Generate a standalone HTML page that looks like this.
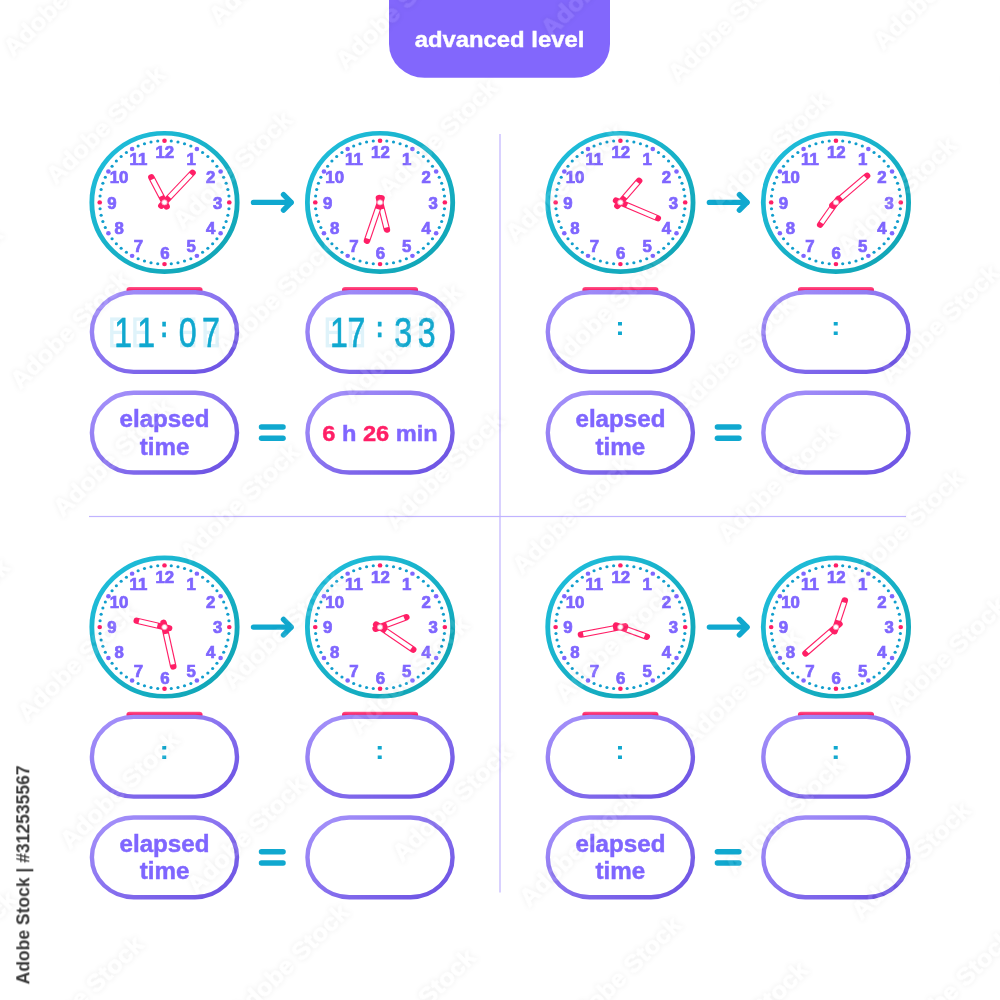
<!DOCTYPE html>
<html lang="en"><head><meta charset="utf-8"><title>elapsed time - advanced level</title>
<style>
html,body{margin:0;padding:0;background:#fff;}
body{width:1000px;height:1000px;overflow:hidden;}
svg{display:block;}
text{font-family:"Liberation Sans",sans-serif;font-weight:700;}
.num{font-size:16px;fill:#7F66FF;stroke:#7F66FF;stroke-width:.7px;text-anchor:middle;}
.lbl{font-size:23px;fill:#7F66FF;stroke:#7F66FF;stroke-width:.45px;text-anchor:middle;}
.s2{font-size:22.5px;}
.ttl{font-size:22.7px;fill:#fff;stroke:#fff;stroke-width:.45px;text-anchor:middle;}
.seg{font-weight:400;font-size:30px;fill:#10A8CF;stroke:#10A8CF;stroke-width:.45px;}
.seg .col{font-weight:700;font-size:20.5px;}
.colon{font-size:28.4px;fill:#10A8CF;}
.wm text{font-size:24px;fill:#fff;stroke:#fff;stroke-width:1px;}
.credit{font-weight:700;font-size:18.8px;fill:#3a3a3a;}
</style></head><body>
<svg width="1000" height="1000" viewBox="0 0 1000 1000"><defs>
<linearGradient id="tg" x1="0" y1="0" x2="1" y2="1"><stop offset="0" stop-color="#20BFDE"/><stop offset="1" stop-color="#0FA3B2"/></linearGradient>
<linearGradient id="pg" x1="0" y1="0" x2="1" y2="1"><stop offset="0" stop-color="#A794FB"/><stop offset="1" stop-color="#694FE2"/></linearGradient>
<linearGradient id="kg" x1="0" y1="0" x2="0" y2="1"><stop offset="0" stop-color="#FF5A8A"/><stop offset="0.7" stop-color="#FB1360"/></linearGradient>
<filter id="wmf" filterUnits="userSpaceOnUse" x="0" y="0" width="1000" height="1000" color-interpolation-filters="sRGB">
<feGaussianBlur in="SourceAlpha" stdDeviation="2.6" result="b"/>
<feComposite in="b" in2="SourceAlpha" operator="out" result="g"/>
<feColorMatrix in="g" type="matrix" values="0 0 0 0 0  0 0 0 0 0  0 0 0 0 0  0 0 0 0.065 0" result="gs"/>
<feColorMatrix in="SourceGraphic" type="matrix" values="0 0 0 0 1  0 0 0 0 1  0 0 0 0 1  0 0 0 0.09 0" result="w"/>
<feMerge><feMergeNode in="gs"/><feMergeNode in="w"/></feMerge>
</filter>
</defs><rect width="1000" height="1000" fill="#fff"/><path d="M389 0 H610 V44 A35.5 33.7 0 0 1 574.5 77.7 H424.5 A35.5 33.7 0 0 1 389 44 Z" fill="#8267FC"/><text transform="translate(499.5,46.5) scale(1.05,1)" class="ttl">advanced level</text><rect x="499" y="134" width="2" height="758.5" fill="#D9D1FF"/><rect x="89" y="515.9" width="817" height="1.2" fill="#C0B4FF"/><g transform="translate(164.5,202.4) scale(1.05,1)"><circle r="69.2" fill="#fff" stroke="url(#tg)" stroke-width="4.6"/><circle cx="0" cy="-61.7" r="2.2" fill="#FF1F66"/><circle cx="6.45" cy="-61.36" r="1.5" fill="#109ECD"/><circle cx="12.83" cy="-60.35" r="1.5" fill="#109ECD"/><circle cx="19.07" cy="-58.68" r="1.5" fill="#109ECD"/><circle cx="25.1" cy="-56.37" r="1.5" fill="#109ECD"/><circle cx="30.85" cy="-53.43" r="2.2" fill="#7F66FF"/><circle cx="36.27" cy="-49.92" r="1.5" fill="#109ECD"/><circle cx="41.29" cy="-45.85" r="1.5" fill="#109ECD"/><circle cx="45.85" cy="-41.29" r="1.5" fill="#109ECD"/><circle cx="49.92" cy="-36.27" r="1.5" fill="#109ECD"/><circle cx="53.43" cy="-30.85" r="2.2" fill="#7F66FF"/><circle cx="56.37" cy="-25.1" r="1.5" fill="#109ECD"/><circle cx="58.68" cy="-19.07" r="1.5" fill="#109ECD"/><circle cx="60.35" cy="-12.83" r="1.5" fill="#109ECD"/><circle cx="61.36" cy="-6.45" r="1.5" fill="#109ECD"/><circle cx="61.7" cy="-0" r="2.2" fill="#FF1F66"/><circle cx="61.36" cy="6.45" r="1.5" fill="#109ECD"/><circle cx="60.35" cy="12.83" r="1.5" fill="#109ECD"/><circle cx="58.68" cy="19.07" r="1.5" fill="#109ECD"/><circle cx="56.37" cy="25.1" r="1.5" fill="#109ECD"/><circle cx="53.43" cy="30.85" r="2.2" fill="#7F66FF"/><circle cx="49.92" cy="36.27" r="1.5" fill="#109ECD"/><circle cx="45.85" cy="41.29" r="1.5" fill="#109ECD"/><circle cx="41.29" cy="45.85" r="1.5" fill="#109ECD"/><circle cx="36.27" cy="49.92" r="1.5" fill="#109ECD"/><circle cx="30.85" cy="53.43" r="2.2" fill="#7F66FF"/><circle cx="25.1" cy="56.37" r="1.5" fill="#109ECD"/><circle cx="19.07" cy="58.68" r="1.5" fill="#109ECD"/><circle cx="12.83" cy="60.35" r="1.5" fill="#109ECD"/><circle cx="6.45" cy="61.36" r="1.5" fill="#109ECD"/><circle cx="0" cy="61.7" r="2.2" fill="#FF1F66"/><circle cx="-6.45" cy="61.36" r="1.5" fill="#109ECD"/><circle cx="-12.83" cy="60.35" r="1.5" fill="#109ECD"/><circle cx="-19.07" cy="58.68" r="1.5" fill="#109ECD"/><circle cx="-25.1" cy="56.37" r="1.5" fill="#109ECD"/><circle cx="-30.85" cy="53.43" r="2.2" fill="#7F66FF"/><circle cx="-36.27" cy="49.92" r="1.5" fill="#109ECD"/><circle cx="-41.29" cy="45.85" r="1.5" fill="#109ECD"/><circle cx="-45.85" cy="41.29" r="1.5" fill="#109ECD"/><circle cx="-49.92" cy="36.27" r="1.5" fill="#109ECD"/><circle cx="-53.43" cy="30.85" r="2.2" fill="#7F66FF"/><circle cx="-56.37" cy="25.1" r="1.5" fill="#109ECD"/><circle cx="-58.68" cy="19.07" r="1.5" fill="#109ECD"/><circle cx="-60.35" cy="12.83" r="1.5" fill="#109ECD"/><circle cx="-61.36" cy="6.45" r="1.5" fill="#109ECD"/><circle cx="-61.7" cy="0" r="2.2" fill="#FF1F66"/><circle cx="-61.36" cy="-6.45" r="1.5" fill="#109ECD"/><circle cx="-60.35" cy="-12.83" r="1.5" fill="#109ECD"/><circle cx="-58.68" cy="-19.07" r="1.5" fill="#109ECD"/><circle cx="-56.37" cy="-25.1" r="1.5" fill="#109ECD"/><circle cx="-53.43" cy="-30.85" r="2.2" fill="#7F66FF"/><circle cx="-49.92" cy="-36.27" r="1.5" fill="#109ECD"/><circle cx="-45.85" cy="-41.29" r="1.5" fill="#109ECD"/><circle cx="-41.29" cy="-45.85" r="1.5" fill="#109ECD"/><circle cx="-36.27" cy="-49.92" r="1.5" fill="#109ECD"/><circle cx="-30.85" cy="-53.43" r="2.2" fill="#7F66FF"/><circle cx="-25.1" cy="-56.37" r="1.5" fill="#109ECD"/><circle cx="-19.07" cy="-58.68" r="1.5" fill="#109ECD"/><circle cx="-12.83" cy="-60.35" r="1.5" fill="#109ECD"/><circle cx="-6.45" cy="-61.36" r="1.5" fill="#109ECD"/><text x="25.45" y="-37.36" class="num">1</text><text x="43.86" y="-18.95" class="num">2</text><text x="50.6" y="6.2" class="num">3</text><text x="43.86" y="31.35" class="num">4</text><text x="25.45" y="49.76" class="num">5</text><text x="0.3" y="56.5" class="num">6</text><text x="-24.85" y="49.76" class="num">7</text><text x="-43.26" y="31.35" class="num">8</text><text x="-50" y="6.2" class="num">9</text><text x="-43.26" y="-18.95" class="num">10</text><text x="-24.85" y="-37.36" class="num">11</text><text x="0.3" y="-44.1" class="num">12</text><g transform="rotate(333.5)"><line x1="0" y1="4.5" x2="0" y2="-28" stroke="#FF1F66" stroke-width="6.2" stroke-linecap="round"/><line x1="0" y1="-7" x2="0" y2="-25.8" stroke="#fff" stroke-width="4" stroke-linecap="butt"/></g><g transform="rotate(42)"><line x1="0" y1="4.5" x2="0" y2="-39.9" stroke="#FF1F66" stroke-width="6.2" stroke-linecap="round"/><line x1="0" y1="-7" x2="0" y2="-37.7" stroke="#fff" stroke-width="4" stroke-linecap="butt"/></g><circle r="2.6" fill="#fff" stroke="#ff8fb0" stroke-width="0.8"/></g><g transform="translate(380.05,202.4) scale(1.05,1)"><circle r="69.2" fill="#fff" stroke="url(#tg)" stroke-width="4.6"/><circle cx="0" cy="-61.7" r="2.2" fill="#FF1F66"/><circle cx="6.45" cy="-61.36" r="1.5" fill="#109ECD"/><circle cx="12.83" cy="-60.35" r="1.5" fill="#109ECD"/><circle cx="19.07" cy="-58.68" r="1.5" fill="#109ECD"/><circle cx="25.1" cy="-56.37" r="1.5" fill="#109ECD"/><circle cx="30.85" cy="-53.43" r="2.2" fill="#7F66FF"/><circle cx="36.27" cy="-49.92" r="1.5" fill="#109ECD"/><circle cx="41.29" cy="-45.85" r="1.5" fill="#109ECD"/><circle cx="45.85" cy="-41.29" r="1.5" fill="#109ECD"/><circle cx="49.92" cy="-36.27" r="1.5" fill="#109ECD"/><circle cx="53.43" cy="-30.85" r="2.2" fill="#7F66FF"/><circle cx="56.37" cy="-25.1" r="1.5" fill="#109ECD"/><circle cx="58.68" cy="-19.07" r="1.5" fill="#109ECD"/><circle cx="60.35" cy="-12.83" r="1.5" fill="#109ECD"/><circle cx="61.36" cy="-6.45" r="1.5" fill="#109ECD"/><circle cx="61.7" cy="-0" r="2.2" fill="#FF1F66"/><circle cx="61.36" cy="6.45" r="1.5" fill="#109ECD"/><circle cx="60.35" cy="12.83" r="1.5" fill="#109ECD"/><circle cx="58.68" cy="19.07" r="1.5" fill="#109ECD"/><circle cx="56.37" cy="25.1" r="1.5" fill="#109ECD"/><circle cx="53.43" cy="30.85" r="2.2" fill="#7F66FF"/><circle cx="49.92" cy="36.27" r="1.5" fill="#109ECD"/><circle cx="45.85" cy="41.29" r="1.5" fill="#109ECD"/><circle cx="41.29" cy="45.85" r="1.5" fill="#109ECD"/><circle cx="36.27" cy="49.92" r="1.5" fill="#109ECD"/><circle cx="30.85" cy="53.43" r="2.2" fill="#7F66FF"/><circle cx="25.1" cy="56.37" r="1.5" fill="#109ECD"/><circle cx="19.07" cy="58.68" r="1.5" fill="#109ECD"/><circle cx="12.83" cy="60.35" r="1.5" fill="#109ECD"/><circle cx="6.45" cy="61.36" r="1.5" fill="#109ECD"/><circle cx="0" cy="61.7" r="2.2" fill="#FF1F66"/><circle cx="-6.45" cy="61.36" r="1.5" fill="#109ECD"/><circle cx="-12.83" cy="60.35" r="1.5" fill="#109ECD"/><circle cx="-19.07" cy="58.68" r="1.5" fill="#109ECD"/><circle cx="-25.1" cy="56.37" r="1.5" fill="#109ECD"/><circle cx="-30.85" cy="53.43" r="2.2" fill="#7F66FF"/><circle cx="-36.27" cy="49.92" r="1.5" fill="#109ECD"/><circle cx="-41.29" cy="45.85" r="1.5" fill="#109ECD"/><circle cx="-45.85" cy="41.29" r="1.5" fill="#109ECD"/><circle cx="-49.92" cy="36.27" r="1.5" fill="#109ECD"/><circle cx="-53.43" cy="30.85" r="2.2" fill="#7F66FF"/><circle cx="-56.37" cy="25.1" r="1.5" fill="#109ECD"/><circle cx="-58.68" cy="19.07" r="1.5" fill="#109ECD"/><circle cx="-60.35" cy="12.83" r="1.5" fill="#109ECD"/><circle cx="-61.36" cy="6.45" r="1.5" fill="#109ECD"/><circle cx="-61.7" cy="0" r="2.2" fill="#FF1F66"/><circle cx="-61.36" cy="-6.45" r="1.5" fill="#109ECD"/><circle cx="-60.35" cy="-12.83" r="1.5" fill="#109ECD"/><circle cx="-58.68" cy="-19.07" r="1.5" fill="#109ECD"/><circle cx="-56.37" cy="-25.1" r="1.5" fill="#109ECD"/><circle cx="-53.43" cy="-30.85" r="2.2" fill="#7F66FF"/><circle cx="-49.92" cy="-36.27" r="1.5" fill="#109ECD"/><circle cx="-45.85" cy="-41.29" r="1.5" fill="#109ECD"/><circle cx="-41.29" cy="-45.85" r="1.5" fill="#109ECD"/><circle cx="-36.27" cy="-49.92" r="1.5" fill="#109ECD"/><circle cx="-30.85" cy="-53.43" r="2.2" fill="#7F66FF"/><circle cx="-25.1" cy="-56.37" r="1.5" fill="#109ECD"/><circle cx="-19.07" cy="-58.68" r="1.5" fill="#109ECD"/><circle cx="-12.83" cy="-60.35" r="1.5" fill="#109ECD"/><circle cx="-6.45" cy="-61.36" r="1.5" fill="#109ECD"/><text x="25.45" y="-37.36" class="num">1</text><text x="43.86" y="-18.95" class="num">2</text><text x="50.6" y="6.2" class="num">3</text><text x="43.86" y="31.35" class="num">4</text><text x="25.45" y="49.76" class="num">5</text><text x="0.3" y="56.5" class="num">6</text><text x="-24.85" y="49.76" class="num">7</text><text x="-43.26" y="31.35" class="num">8</text><text x="-50" y="6.2" class="num">9</text><text x="-43.26" y="-18.95" class="num">10</text><text x="-24.85" y="-37.36" class="num">11</text><text x="0.3" y="-44.1" class="num">12</text><g transform="rotate(166.5)"><line x1="0" y1="4.5" x2="0" y2="-28" stroke="#FF1F66" stroke-width="6.2" stroke-linecap="round"/><line x1="0" y1="-7" x2="0" y2="-25.8" stroke="#fff" stroke-width="4" stroke-linecap="butt"/></g><g transform="rotate(198)"><line x1="0" y1="4.5" x2="0" y2="-40.3" stroke="#FF1F66" stroke-width="6.2" stroke-linecap="round"/><line x1="0" y1="-7" x2="0" y2="-38.1" stroke="#fff" stroke-width="4" stroke-linecap="butt"/></g><circle r="2.6" fill="#fff" stroke="#ff8fb0" stroke-width="0.8"/></g><g fill="none" stroke="#10A8CF" stroke-width="5.4" stroke-linecap="round" stroke-linejoin="round"><path d="M253.5 202.4 H291"/><path d="M283.5 194.6 L291.2 202.4 L283.5 210.2"/></g><path d="M126.5 292 V289.5 Q126.5 287 129.5 287 H199.5 Q202.5 287 202.5 289.5 V292 Z" fill="url(#kg)"/><rect x="91.9" y="292.2" width="145.1" height="79.7" rx="41.84" ry="39.85" fill="#fff" stroke="url(#pg)" stroke-width="4.4"/><rect x="91.9" y="392.8" width="145.1" height="79.7" rx="41.84" ry="39.85" fill="#fff" stroke="url(#pg)" stroke-width="4.4"/><path d="M342.05 292 V289.5 Q342.05 287 345.05 287 H415.05 Q418.05 287 418.05 289.5 V292 Z" fill="url(#kg)"/><rect x="307.45" y="292.2" width="145.1" height="79.7" rx="41.84" ry="39.85" fill="#fff" stroke="url(#pg)" stroke-width="4.4"/><rect x="307.45" y="392.8" width="145.1" height="79.7" rx="41.84" ry="39.85" fill="#fff" stroke="url(#pg)" stroke-width="4.4"/><g fill="none" stroke="#DFF3FA" stroke-width="3.4"><rect x="111.8" y="319.1" width="12" height="26.6"/><path d="M111.8 332.4 H123.8"/></g><g fill="none" stroke="#DFF3FA" stroke-width="3.4"><rect x="134.9" y="319.1" width="12" height="26.6"/><path d="M134.9 332.4 H146.9"/></g><g fill="none" stroke="#DFF3FA" stroke-width="3.4"><rect x="181.7" y="319.1" width="12" height="26.6"/><path d="M181.7 332.4 H193.7"/></g><g fill="none" stroke="#DFF3FA" stroke-width="3.4"><rect x="205.1" y="319.1" width="12" height="26.6"/><path d="M205.1 332.4 H217.1"/></g><text transform="translate(164.5,347) scale(1.07,1.41)" class="seg"><tspan x="-46.9 -25.39">11</tspan><tspan class="col" x="-3.69" dy="-7.29">:</tspan><tspan x="13.26 35.04" dy="7.29">07</tspan></text><g fill="none" stroke="#DFF3FA" stroke-width="3.4"><rect x="327.35" y="319.1" width="12" height="26.6"/><path d="M327.35 332.4 H339.35"/></g><g fill="none" stroke="#DFF3FA" stroke-width="3.4"><rect x="350.45" y="319.1" width="12" height="26.6"/><path d="M350.45 332.4 H362.45"/></g><g fill="none" stroke="#DFF3FA" stroke-width="3.4"><rect x="397.25" y="319.1" width="12" height="26.6"/><path d="M397.25 332.4 H409.25"/></g><g fill="none" stroke="#DFF3FA" stroke-width="3.4"><rect x="420.65" y="319.1" width="12" height="26.6"/><path d="M420.65 332.4 H432.65"/></g><text transform="translate(380.05,347) scale(1.07,1.41)" class="seg"><tspan x="-46.9 -30.33">17</tspan><tspan class="col" x="-3.69" dy="-7.29">:</tspan><tspan x="13.35 35.14" dy="7.29">33</tspan></text><text transform="translate(380.05,441) scale(1.05,1)" class="lbl s2"><tspan fill="#FF1F66" stroke="#FF1F66">6</tspan> h <tspan fill="#FF1F66" stroke="#FF1F66">26</tspan> min</text><text transform="translate(164.5,427.2) scale(1.05,1)" class="lbl"><tspan x="3.2">elapsed </tspan><tspan x="0" dy="27.6">time</tspan></text><g fill="none" stroke="#10A8CF" stroke-width="5.5" stroke-linecap="round"><path d="M261.52 427 H283.02"/><path d="M261.52 438.2 H283.02"/></g><g transform="translate(620.4,202.4) scale(1.05,1)"><circle r="69.2" fill="#fff" stroke="url(#tg)" stroke-width="4.6"/><circle cx="0" cy="-61.7" r="2.2" fill="#FF1F66"/><circle cx="6.45" cy="-61.36" r="1.5" fill="#109ECD"/><circle cx="12.83" cy="-60.35" r="1.5" fill="#109ECD"/><circle cx="19.07" cy="-58.68" r="1.5" fill="#109ECD"/><circle cx="25.1" cy="-56.37" r="1.5" fill="#109ECD"/><circle cx="30.85" cy="-53.43" r="2.2" fill="#7F66FF"/><circle cx="36.27" cy="-49.92" r="1.5" fill="#109ECD"/><circle cx="41.29" cy="-45.85" r="1.5" fill="#109ECD"/><circle cx="45.85" cy="-41.29" r="1.5" fill="#109ECD"/><circle cx="49.92" cy="-36.27" r="1.5" fill="#109ECD"/><circle cx="53.43" cy="-30.85" r="2.2" fill="#7F66FF"/><circle cx="56.37" cy="-25.1" r="1.5" fill="#109ECD"/><circle cx="58.68" cy="-19.07" r="1.5" fill="#109ECD"/><circle cx="60.35" cy="-12.83" r="1.5" fill="#109ECD"/><circle cx="61.36" cy="-6.45" r="1.5" fill="#109ECD"/><circle cx="61.7" cy="-0" r="2.2" fill="#FF1F66"/><circle cx="61.36" cy="6.45" r="1.5" fill="#109ECD"/><circle cx="60.35" cy="12.83" r="1.5" fill="#109ECD"/><circle cx="58.68" cy="19.07" r="1.5" fill="#109ECD"/><circle cx="56.37" cy="25.1" r="1.5" fill="#109ECD"/><circle cx="53.43" cy="30.85" r="2.2" fill="#7F66FF"/><circle cx="49.92" cy="36.27" r="1.5" fill="#109ECD"/><circle cx="45.85" cy="41.29" r="1.5" fill="#109ECD"/><circle cx="41.29" cy="45.85" r="1.5" fill="#109ECD"/><circle cx="36.27" cy="49.92" r="1.5" fill="#109ECD"/><circle cx="30.85" cy="53.43" r="2.2" fill="#7F66FF"/><circle cx="25.1" cy="56.37" r="1.5" fill="#109ECD"/><circle cx="19.07" cy="58.68" r="1.5" fill="#109ECD"/><circle cx="12.83" cy="60.35" r="1.5" fill="#109ECD"/><circle cx="6.45" cy="61.36" r="1.5" fill="#109ECD"/><circle cx="0" cy="61.7" r="2.2" fill="#FF1F66"/><circle cx="-6.45" cy="61.36" r="1.5" fill="#109ECD"/><circle cx="-12.83" cy="60.35" r="1.5" fill="#109ECD"/><circle cx="-19.07" cy="58.68" r="1.5" fill="#109ECD"/><circle cx="-25.1" cy="56.37" r="1.5" fill="#109ECD"/><circle cx="-30.85" cy="53.43" r="2.2" fill="#7F66FF"/><circle cx="-36.27" cy="49.92" r="1.5" fill="#109ECD"/><circle cx="-41.29" cy="45.85" r="1.5" fill="#109ECD"/><circle cx="-45.85" cy="41.29" r="1.5" fill="#109ECD"/><circle cx="-49.92" cy="36.27" r="1.5" fill="#109ECD"/><circle cx="-53.43" cy="30.85" r="2.2" fill="#7F66FF"/><circle cx="-56.37" cy="25.1" r="1.5" fill="#109ECD"/><circle cx="-58.68" cy="19.07" r="1.5" fill="#109ECD"/><circle cx="-60.35" cy="12.83" r="1.5" fill="#109ECD"/><circle cx="-61.36" cy="6.45" r="1.5" fill="#109ECD"/><circle cx="-61.7" cy="0" r="2.2" fill="#FF1F66"/><circle cx="-61.36" cy="-6.45" r="1.5" fill="#109ECD"/><circle cx="-60.35" cy="-12.83" r="1.5" fill="#109ECD"/><circle cx="-58.68" cy="-19.07" r="1.5" fill="#109ECD"/><circle cx="-56.37" cy="-25.1" r="1.5" fill="#109ECD"/><circle cx="-53.43" cy="-30.85" r="2.2" fill="#7F66FF"/><circle cx="-49.92" cy="-36.27" r="1.5" fill="#109ECD"/><circle cx="-45.85" cy="-41.29" r="1.5" fill="#109ECD"/><circle cx="-41.29" cy="-45.85" r="1.5" fill="#109ECD"/><circle cx="-36.27" cy="-49.92" r="1.5" fill="#109ECD"/><circle cx="-30.85" cy="-53.43" r="2.2" fill="#7F66FF"/><circle cx="-25.1" cy="-56.37" r="1.5" fill="#109ECD"/><circle cx="-19.07" cy="-58.68" r="1.5" fill="#109ECD"/><circle cx="-12.83" cy="-60.35" r="1.5" fill="#109ECD"/><circle cx="-6.45" cy="-61.36" r="1.5" fill="#109ECD"/><text x="25.45" y="-37.36" class="num">1</text><text x="43.86" y="-18.95" class="num">2</text><text x="50.6" y="6.2" class="num">3</text><text x="43.86" y="31.35" class="num">4</text><text x="25.45" y="49.76" class="num">5</text><text x="0.3" y="56.5" class="num">6</text><text x="-24.85" y="49.76" class="num">7</text><text x="-43.26" y="31.35" class="num">8</text><text x="-50" y="6.2" class="num">9</text><text x="-43.26" y="-18.95" class="num">10</text><text x="-24.85" y="-37.36" class="num">11</text><text x="0.3" y="-44.1" class="num">12</text><g transform="rotate(39.5)"><line x1="0" y1="4.5" x2="0" y2="-28" stroke="#FF1F66" stroke-width="6.2" stroke-linecap="round"/><line x1="0" y1="-7" x2="0" y2="-25.8" stroke="#fff" stroke-width="4" stroke-linecap="butt"/></g><g transform="rotate(114)"><line x1="0" y1="4.5" x2="0" y2="-39" stroke="#FF1F66" stroke-width="6.2" stroke-linecap="round"/><line x1="0" y1="-7" x2="0" y2="-36.8" stroke="#fff" stroke-width="4" stroke-linecap="butt"/></g><circle r="2.6" fill="#fff" stroke="#ff8fb0" stroke-width="0.8"/></g><g transform="translate(835.95,202.4) scale(1.05,1)"><circle r="69.2" fill="#fff" stroke="url(#tg)" stroke-width="4.6"/><circle cx="0" cy="-61.7" r="2.2" fill="#FF1F66"/><circle cx="6.45" cy="-61.36" r="1.5" fill="#109ECD"/><circle cx="12.83" cy="-60.35" r="1.5" fill="#109ECD"/><circle cx="19.07" cy="-58.68" r="1.5" fill="#109ECD"/><circle cx="25.1" cy="-56.37" r="1.5" fill="#109ECD"/><circle cx="30.85" cy="-53.43" r="2.2" fill="#7F66FF"/><circle cx="36.27" cy="-49.92" r="1.5" fill="#109ECD"/><circle cx="41.29" cy="-45.85" r="1.5" fill="#109ECD"/><circle cx="45.85" cy="-41.29" r="1.5" fill="#109ECD"/><circle cx="49.92" cy="-36.27" r="1.5" fill="#109ECD"/><circle cx="53.43" cy="-30.85" r="2.2" fill="#7F66FF"/><circle cx="56.37" cy="-25.1" r="1.5" fill="#109ECD"/><circle cx="58.68" cy="-19.07" r="1.5" fill="#109ECD"/><circle cx="60.35" cy="-12.83" r="1.5" fill="#109ECD"/><circle cx="61.36" cy="-6.45" r="1.5" fill="#109ECD"/><circle cx="61.7" cy="-0" r="2.2" fill="#FF1F66"/><circle cx="61.36" cy="6.45" r="1.5" fill="#109ECD"/><circle cx="60.35" cy="12.83" r="1.5" fill="#109ECD"/><circle cx="58.68" cy="19.07" r="1.5" fill="#109ECD"/><circle cx="56.37" cy="25.1" r="1.5" fill="#109ECD"/><circle cx="53.43" cy="30.85" r="2.2" fill="#7F66FF"/><circle cx="49.92" cy="36.27" r="1.5" fill="#109ECD"/><circle cx="45.85" cy="41.29" r="1.5" fill="#109ECD"/><circle cx="41.29" cy="45.85" r="1.5" fill="#109ECD"/><circle cx="36.27" cy="49.92" r="1.5" fill="#109ECD"/><circle cx="30.85" cy="53.43" r="2.2" fill="#7F66FF"/><circle cx="25.1" cy="56.37" r="1.5" fill="#109ECD"/><circle cx="19.07" cy="58.68" r="1.5" fill="#109ECD"/><circle cx="12.83" cy="60.35" r="1.5" fill="#109ECD"/><circle cx="6.45" cy="61.36" r="1.5" fill="#109ECD"/><circle cx="0" cy="61.7" r="2.2" fill="#FF1F66"/><circle cx="-6.45" cy="61.36" r="1.5" fill="#109ECD"/><circle cx="-12.83" cy="60.35" r="1.5" fill="#109ECD"/><circle cx="-19.07" cy="58.68" r="1.5" fill="#109ECD"/><circle cx="-25.1" cy="56.37" r="1.5" fill="#109ECD"/><circle cx="-30.85" cy="53.43" r="2.2" fill="#7F66FF"/><circle cx="-36.27" cy="49.92" r="1.5" fill="#109ECD"/><circle cx="-41.29" cy="45.85" r="1.5" fill="#109ECD"/><circle cx="-45.85" cy="41.29" r="1.5" fill="#109ECD"/><circle cx="-49.92" cy="36.27" r="1.5" fill="#109ECD"/><circle cx="-53.43" cy="30.85" r="2.2" fill="#7F66FF"/><circle cx="-56.37" cy="25.1" r="1.5" fill="#109ECD"/><circle cx="-58.68" cy="19.07" r="1.5" fill="#109ECD"/><circle cx="-60.35" cy="12.83" r="1.5" fill="#109ECD"/><circle cx="-61.36" cy="6.45" r="1.5" fill="#109ECD"/><circle cx="-61.7" cy="0" r="2.2" fill="#FF1F66"/><circle cx="-61.36" cy="-6.45" r="1.5" fill="#109ECD"/><circle cx="-60.35" cy="-12.83" r="1.5" fill="#109ECD"/><circle cx="-58.68" cy="-19.07" r="1.5" fill="#109ECD"/><circle cx="-56.37" cy="-25.1" r="1.5" fill="#109ECD"/><circle cx="-53.43" cy="-30.85" r="2.2" fill="#7F66FF"/><circle cx="-49.92" cy="-36.27" r="1.5" fill="#109ECD"/><circle cx="-45.85" cy="-41.29" r="1.5" fill="#109ECD"/><circle cx="-41.29" cy="-45.85" r="1.5" fill="#109ECD"/><circle cx="-36.27" cy="-49.92" r="1.5" fill="#109ECD"/><circle cx="-30.85" cy="-53.43" r="2.2" fill="#7F66FF"/><circle cx="-25.1" cy="-56.37" r="1.5" fill="#109ECD"/><circle cx="-19.07" cy="-58.68" r="1.5" fill="#109ECD"/><circle cx="-12.83" cy="-60.35" r="1.5" fill="#109ECD"/><circle cx="-6.45" cy="-61.36" r="1.5" fill="#109ECD"/><text x="25.45" y="-37.36" class="num">1</text><text x="43.86" y="-18.95" class="num">2</text><text x="50.6" y="6.2" class="num">3</text><text x="43.86" y="31.35" class="num">4</text><text x="25.45" y="49.76" class="num">5</text><text x="0.3" y="56.5" class="num">6</text><text x="-24.85" y="49.76" class="num">7</text><text x="-43.26" y="31.35" class="num">8</text><text x="-50" y="6.2" class="num">9</text><text x="-43.26" y="-18.95" class="num">10</text><text x="-24.85" y="-37.36" class="num">11</text><text x="0.3" y="-44.1" class="num">12</text><g transform="rotate(214)"><line x1="0" y1="4.5" x2="0" y2="-26.8" stroke="#FF1F66" stroke-width="6.2" stroke-linecap="round"/><line x1="0" y1="-7" x2="0" y2="-24.6" stroke="#fff" stroke-width="4" stroke-linecap="butt"/></g><g transform="rotate(48)"><line x1="0" y1="4.5" x2="0" y2="-39.9" stroke="#FF1F66" stroke-width="6.2" stroke-linecap="round"/><line x1="0" y1="-7" x2="0" y2="-37.7" stroke="#fff" stroke-width="4" stroke-linecap="butt"/></g><circle r="2.6" fill="#fff" stroke="#ff8fb0" stroke-width="0.8"/></g><g fill="none" stroke="#10A8CF" stroke-width="5.4" stroke-linecap="round" stroke-linejoin="round"><path d="M709.4 202.4 H746.9"/><path d="M739.4 194.6 L747.1 202.4 L739.4 210.2"/></g><path d="M582.4 292 V289.5 Q582.4 287 585.4 287 H655.4 Q658.4 287 658.4 289.5 V292 Z" fill="url(#kg)"/><rect x="547.8" y="292.2" width="145.1" height="79.7" rx="41.84" ry="39.85" fill="#fff" stroke="url(#pg)" stroke-width="4.4"/><rect x="547.8" y="392.8" width="145.1" height="79.7" rx="41.84" ry="39.85" fill="#fff" stroke="url(#pg)" stroke-width="4.4"/><path d="M797.95 292 V289.5 Q797.95 287 800.95 287 H870.95 Q873.95 287 873.95 289.5 V292 Z" fill="url(#kg)"/><rect x="763.35" y="292.2" width="145.1" height="79.7" rx="41.84" ry="39.85" fill="#fff" stroke="url(#pg)" stroke-width="4.4"/><rect x="763.35" y="392.8" width="145.1" height="79.7" rx="41.84" ry="39.85" fill="#fff" stroke="url(#pg)" stroke-width="4.4"/><text transform="translate(615.37,334.7) scale(1,0.92)" class="colon">:</text><text transform="translate(830.92,334.7) scale(1,0.92)" class="colon">:</text><text transform="translate(620.4,427.2) scale(1.05,1)" class="lbl"><tspan x="3.2">elapsed </tspan><tspan x="0" dy="27.6">time</tspan></text><g fill="none" stroke="#10A8CF" stroke-width="5.5" stroke-linecap="round"><path d="M717.42 427 H738.92"/><path d="M717.42 438.2 H738.92"/></g><g transform="translate(164.5,627.1) scale(1.05,1)"><circle r="69.2" fill="#fff" stroke="url(#tg)" stroke-width="4.6"/><circle cx="0" cy="-61.7" r="2.2" fill="#FF1F66"/><circle cx="6.45" cy="-61.36" r="1.5" fill="#109ECD"/><circle cx="12.83" cy="-60.35" r="1.5" fill="#109ECD"/><circle cx="19.07" cy="-58.68" r="1.5" fill="#109ECD"/><circle cx="25.1" cy="-56.37" r="1.5" fill="#109ECD"/><circle cx="30.85" cy="-53.43" r="2.2" fill="#7F66FF"/><circle cx="36.27" cy="-49.92" r="1.5" fill="#109ECD"/><circle cx="41.29" cy="-45.85" r="1.5" fill="#109ECD"/><circle cx="45.85" cy="-41.29" r="1.5" fill="#109ECD"/><circle cx="49.92" cy="-36.27" r="1.5" fill="#109ECD"/><circle cx="53.43" cy="-30.85" r="2.2" fill="#7F66FF"/><circle cx="56.37" cy="-25.1" r="1.5" fill="#109ECD"/><circle cx="58.68" cy="-19.07" r="1.5" fill="#109ECD"/><circle cx="60.35" cy="-12.83" r="1.5" fill="#109ECD"/><circle cx="61.36" cy="-6.45" r="1.5" fill="#109ECD"/><circle cx="61.7" cy="-0" r="2.2" fill="#FF1F66"/><circle cx="61.36" cy="6.45" r="1.5" fill="#109ECD"/><circle cx="60.35" cy="12.83" r="1.5" fill="#109ECD"/><circle cx="58.68" cy="19.07" r="1.5" fill="#109ECD"/><circle cx="56.37" cy="25.1" r="1.5" fill="#109ECD"/><circle cx="53.43" cy="30.85" r="2.2" fill="#7F66FF"/><circle cx="49.92" cy="36.27" r="1.5" fill="#109ECD"/><circle cx="45.85" cy="41.29" r="1.5" fill="#109ECD"/><circle cx="41.29" cy="45.85" r="1.5" fill="#109ECD"/><circle cx="36.27" cy="49.92" r="1.5" fill="#109ECD"/><circle cx="30.85" cy="53.43" r="2.2" fill="#7F66FF"/><circle cx="25.1" cy="56.37" r="1.5" fill="#109ECD"/><circle cx="19.07" cy="58.68" r="1.5" fill="#109ECD"/><circle cx="12.83" cy="60.35" r="1.5" fill="#109ECD"/><circle cx="6.45" cy="61.36" r="1.5" fill="#109ECD"/><circle cx="0" cy="61.7" r="2.2" fill="#FF1F66"/><circle cx="-6.45" cy="61.36" r="1.5" fill="#109ECD"/><circle cx="-12.83" cy="60.35" r="1.5" fill="#109ECD"/><circle cx="-19.07" cy="58.68" r="1.5" fill="#109ECD"/><circle cx="-25.1" cy="56.37" r="1.5" fill="#109ECD"/><circle cx="-30.85" cy="53.43" r="2.2" fill="#7F66FF"/><circle cx="-36.27" cy="49.92" r="1.5" fill="#109ECD"/><circle cx="-41.29" cy="45.85" r="1.5" fill="#109ECD"/><circle cx="-45.85" cy="41.29" r="1.5" fill="#109ECD"/><circle cx="-49.92" cy="36.27" r="1.5" fill="#109ECD"/><circle cx="-53.43" cy="30.85" r="2.2" fill="#7F66FF"/><circle cx="-56.37" cy="25.1" r="1.5" fill="#109ECD"/><circle cx="-58.68" cy="19.07" r="1.5" fill="#109ECD"/><circle cx="-60.35" cy="12.83" r="1.5" fill="#109ECD"/><circle cx="-61.36" cy="6.45" r="1.5" fill="#109ECD"/><circle cx="-61.7" cy="0" r="2.2" fill="#FF1F66"/><circle cx="-61.36" cy="-6.45" r="1.5" fill="#109ECD"/><circle cx="-60.35" cy="-12.83" r="1.5" fill="#109ECD"/><circle cx="-58.68" cy="-19.07" r="1.5" fill="#109ECD"/><circle cx="-56.37" cy="-25.1" r="1.5" fill="#109ECD"/><circle cx="-53.43" cy="-30.85" r="2.2" fill="#7F66FF"/><circle cx="-49.92" cy="-36.27" r="1.5" fill="#109ECD"/><circle cx="-45.85" cy="-41.29" r="1.5" fill="#109ECD"/><circle cx="-41.29" cy="-45.85" r="1.5" fill="#109ECD"/><circle cx="-36.27" cy="-49.92" r="1.5" fill="#109ECD"/><circle cx="-30.85" cy="-53.43" r="2.2" fill="#7F66FF"/><circle cx="-25.1" cy="-56.37" r="1.5" fill="#109ECD"/><circle cx="-19.07" cy="-58.68" r="1.5" fill="#109ECD"/><circle cx="-12.83" cy="-60.35" r="1.5" fill="#109ECD"/><circle cx="-6.45" cy="-61.36" r="1.5" fill="#109ECD"/><text x="25.45" y="-37.36" class="num">1</text><text x="43.86" y="-18.95" class="num">2</text><text x="50.6" y="6.2" class="num">3</text><text x="43.86" y="31.35" class="num">4</text><text x="25.45" y="49.76" class="num">5</text><text x="0.3" y="56.5" class="num">6</text><text x="-24.85" y="49.76" class="num">7</text><text x="-43.26" y="31.35" class="num">8</text><text x="-50" y="6.2" class="num">9</text><text x="-43.26" y="-18.95" class="num">10</text><text x="-24.85" y="-37.36" class="num">11</text><text x="0.3" y="-44.1" class="num">12</text><g transform="rotate(283.6)"><line x1="0" y1="4.5" x2="0" y2="-27.2" stroke="#FF1F66" stroke-width="6.2" stroke-linecap="round"/><line x1="0" y1="-7" x2="0" y2="-25" stroke="#fff" stroke-width="4" stroke-linecap="butt"/></g><g transform="rotate(168)"><line x1="0" y1="4.5" x2="0" y2="-40.3" stroke="#FF1F66" stroke-width="6.2" stroke-linecap="round"/><line x1="0" y1="-7" x2="0" y2="-38.1" stroke="#fff" stroke-width="4" stroke-linecap="butt"/></g><circle r="2.6" fill="#fff" stroke="#ff8fb0" stroke-width="0.8"/></g><g transform="translate(380.05,627.1) scale(1.05,1)"><circle r="69.2" fill="#fff" stroke="url(#tg)" stroke-width="4.6"/><circle cx="0" cy="-61.7" r="2.2" fill="#FF1F66"/><circle cx="6.45" cy="-61.36" r="1.5" fill="#109ECD"/><circle cx="12.83" cy="-60.35" r="1.5" fill="#109ECD"/><circle cx="19.07" cy="-58.68" r="1.5" fill="#109ECD"/><circle cx="25.1" cy="-56.37" r="1.5" fill="#109ECD"/><circle cx="30.85" cy="-53.43" r="2.2" fill="#7F66FF"/><circle cx="36.27" cy="-49.92" r="1.5" fill="#109ECD"/><circle cx="41.29" cy="-45.85" r="1.5" fill="#109ECD"/><circle cx="45.85" cy="-41.29" r="1.5" fill="#109ECD"/><circle cx="49.92" cy="-36.27" r="1.5" fill="#109ECD"/><circle cx="53.43" cy="-30.85" r="2.2" fill="#7F66FF"/><circle cx="56.37" cy="-25.1" r="1.5" fill="#109ECD"/><circle cx="58.68" cy="-19.07" r="1.5" fill="#109ECD"/><circle cx="60.35" cy="-12.83" r="1.5" fill="#109ECD"/><circle cx="61.36" cy="-6.45" r="1.5" fill="#109ECD"/><circle cx="61.7" cy="-0" r="2.2" fill="#FF1F66"/><circle cx="61.36" cy="6.45" r="1.5" fill="#109ECD"/><circle cx="60.35" cy="12.83" r="1.5" fill="#109ECD"/><circle cx="58.68" cy="19.07" r="1.5" fill="#109ECD"/><circle cx="56.37" cy="25.1" r="1.5" fill="#109ECD"/><circle cx="53.43" cy="30.85" r="2.2" fill="#7F66FF"/><circle cx="49.92" cy="36.27" r="1.5" fill="#109ECD"/><circle cx="45.85" cy="41.29" r="1.5" fill="#109ECD"/><circle cx="41.29" cy="45.85" r="1.5" fill="#109ECD"/><circle cx="36.27" cy="49.92" r="1.5" fill="#109ECD"/><circle cx="30.85" cy="53.43" r="2.2" fill="#7F66FF"/><circle cx="25.1" cy="56.37" r="1.5" fill="#109ECD"/><circle cx="19.07" cy="58.68" r="1.5" fill="#109ECD"/><circle cx="12.83" cy="60.35" r="1.5" fill="#109ECD"/><circle cx="6.45" cy="61.36" r="1.5" fill="#109ECD"/><circle cx="0" cy="61.7" r="2.2" fill="#FF1F66"/><circle cx="-6.45" cy="61.36" r="1.5" fill="#109ECD"/><circle cx="-12.83" cy="60.35" r="1.5" fill="#109ECD"/><circle cx="-19.07" cy="58.68" r="1.5" fill="#109ECD"/><circle cx="-25.1" cy="56.37" r="1.5" fill="#109ECD"/><circle cx="-30.85" cy="53.43" r="2.2" fill="#7F66FF"/><circle cx="-36.27" cy="49.92" r="1.5" fill="#109ECD"/><circle cx="-41.29" cy="45.85" r="1.5" fill="#109ECD"/><circle cx="-45.85" cy="41.29" r="1.5" fill="#109ECD"/><circle cx="-49.92" cy="36.27" r="1.5" fill="#109ECD"/><circle cx="-53.43" cy="30.85" r="2.2" fill="#7F66FF"/><circle cx="-56.37" cy="25.1" r="1.5" fill="#109ECD"/><circle cx="-58.68" cy="19.07" r="1.5" fill="#109ECD"/><circle cx="-60.35" cy="12.83" r="1.5" fill="#109ECD"/><circle cx="-61.36" cy="6.45" r="1.5" fill="#109ECD"/><circle cx="-61.7" cy="0" r="2.2" fill="#FF1F66"/><circle cx="-61.36" cy="-6.45" r="1.5" fill="#109ECD"/><circle cx="-60.35" cy="-12.83" r="1.5" fill="#109ECD"/><circle cx="-58.68" cy="-19.07" r="1.5" fill="#109ECD"/><circle cx="-56.37" cy="-25.1" r="1.5" fill="#109ECD"/><circle cx="-53.43" cy="-30.85" r="2.2" fill="#7F66FF"/><circle cx="-49.92" cy="-36.27" r="1.5" fill="#109ECD"/><circle cx="-45.85" cy="-41.29" r="1.5" fill="#109ECD"/><circle cx="-41.29" cy="-45.85" r="1.5" fill="#109ECD"/><circle cx="-36.27" cy="-49.92" r="1.5" fill="#109ECD"/><circle cx="-30.85" cy="-53.43" r="2.2" fill="#7F66FF"/><circle cx="-25.1" cy="-56.37" r="1.5" fill="#109ECD"/><circle cx="-19.07" cy="-58.68" r="1.5" fill="#109ECD"/><circle cx="-12.83" cy="-60.35" r="1.5" fill="#109ECD"/><circle cx="-6.45" cy="-61.36" r="1.5" fill="#109ECD"/><text x="25.45" y="-37.36" class="num">1</text><text x="43.86" y="-18.95" class="num">2</text><text x="50.6" y="6.2" class="num">3</text><text x="43.86" y="31.35" class="num">4</text><text x="25.45" y="49.76" class="num">5</text><text x="0.3" y="56.5" class="num">6</text><text x="-24.85" y="49.76" class="num">7</text><text x="-43.26" y="31.35" class="num">8</text><text x="-50" y="6.2" class="num">9</text><text x="-43.26" y="-18.95" class="num">10</text><text x="-24.85" y="-37.36" class="num">11</text><text x="0.3" y="-44.1" class="num">12</text><g transform="rotate(68.5)"><line x1="0" y1="4.5" x2="0" y2="-26.9" stroke="#FF1F66" stroke-width="6.2" stroke-linecap="round"/><line x1="0" y1="-7" x2="0" y2="-24.7" stroke="#fff" stroke-width="4" stroke-linecap="butt"/></g><g transform="rotate(125.5)"><line x1="0" y1="4.5" x2="0" y2="-38.8" stroke="#FF1F66" stroke-width="6.2" stroke-linecap="round"/><line x1="0" y1="-7" x2="0" y2="-36.6" stroke="#fff" stroke-width="4" stroke-linecap="butt"/></g><circle r="2.6" fill="#fff" stroke="#ff8fb0" stroke-width="0.8"/></g><g fill="none" stroke="#10A8CF" stroke-width="5.4" stroke-linecap="round" stroke-linejoin="round"><path d="M253.5 627.1 H291"/><path d="M283.5 619.3 L291.2 627.1 L283.5 634.9"/></g><path d="M126.5 716.7 V714.2 Q126.5 711.7 129.5 711.7 H199.5 Q202.5 711.7 202.5 714.2 V716.7 Z" fill="url(#kg)"/><rect x="91.9" y="716.9" width="145.1" height="79.7" rx="41.84" ry="39.85" fill="#fff" stroke="url(#pg)" stroke-width="4.4"/><rect x="91.9" y="817.5" width="145.1" height="79.7" rx="41.84" ry="39.85" fill="#fff" stroke="url(#pg)" stroke-width="4.4"/><path d="M342.05 716.7 V714.2 Q342.05 711.7 345.05 711.7 H415.05 Q418.05 711.7 418.05 714.2 V716.7 Z" fill="url(#kg)"/><rect x="307.45" y="716.9" width="145.1" height="79.7" rx="41.84" ry="39.85" fill="#fff" stroke="url(#pg)" stroke-width="4.4"/><rect x="307.45" y="817.5" width="145.1" height="79.7" rx="41.84" ry="39.85" fill="#fff" stroke="url(#pg)" stroke-width="4.4"/><text transform="translate(159.47,759.4) scale(1,0.92)" class="colon">:</text><text transform="translate(375.02,759.4) scale(1,0.92)" class="colon">:</text><text transform="translate(164.5,851.9) scale(1.05,1)" class="lbl"><tspan x="3.2">elapsed </tspan><tspan x="0" dy="27.6">time</tspan></text><g fill="none" stroke="#10A8CF" stroke-width="5.5" stroke-linecap="round"><path d="M261.52 851.7 H283.02"/><path d="M261.52 862.9 H283.02"/></g><g transform="translate(620.4,627.1) scale(1.05,1)"><circle r="69.2" fill="#fff" stroke="url(#tg)" stroke-width="4.6"/><circle cx="0" cy="-61.7" r="2.2" fill="#FF1F66"/><circle cx="6.45" cy="-61.36" r="1.5" fill="#109ECD"/><circle cx="12.83" cy="-60.35" r="1.5" fill="#109ECD"/><circle cx="19.07" cy="-58.68" r="1.5" fill="#109ECD"/><circle cx="25.1" cy="-56.37" r="1.5" fill="#109ECD"/><circle cx="30.85" cy="-53.43" r="2.2" fill="#7F66FF"/><circle cx="36.27" cy="-49.92" r="1.5" fill="#109ECD"/><circle cx="41.29" cy="-45.85" r="1.5" fill="#109ECD"/><circle cx="45.85" cy="-41.29" r="1.5" fill="#109ECD"/><circle cx="49.92" cy="-36.27" r="1.5" fill="#109ECD"/><circle cx="53.43" cy="-30.85" r="2.2" fill="#7F66FF"/><circle cx="56.37" cy="-25.1" r="1.5" fill="#109ECD"/><circle cx="58.68" cy="-19.07" r="1.5" fill="#109ECD"/><circle cx="60.35" cy="-12.83" r="1.5" fill="#109ECD"/><circle cx="61.36" cy="-6.45" r="1.5" fill="#109ECD"/><circle cx="61.7" cy="-0" r="2.2" fill="#FF1F66"/><circle cx="61.36" cy="6.45" r="1.5" fill="#109ECD"/><circle cx="60.35" cy="12.83" r="1.5" fill="#109ECD"/><circle cx="58.68" cy="19.07" r="1.5" fill="#109ECD"/><circle cx="56.37" cy="25.1" r="1.5" fill="#109ECD"/><circle cx="53.43" cy="30.85" r="2.2" fill="#7F66FF"/><circle cx="49.92" cy="36.27" r="1.5" fill="#109ECD"/><circle cx="45.85" cy="41.29" r="1.5" fill="#109ECD"/><circle cx="41.29" cy="45.85" r="1.5" fill="#109ECD"/><circle cx="36.27" cy="49.92" r="1.5" fill="#109ECD"/><circle cx="30.85" cy="53.43" r="2.2" fill="#7F66FF"/><circle cx="25.1" cy="56.37" r="1.5" fill="#109ECD"/><circle cx="19.07" cy="58.68" r="1.5" fill="#109ECD"/><circle cx="12.83" cy="60.35" r="1.5" fill="#109ECD"/><circle cx="6.45" cy="61.36" r="1.5" fill="#109ECD"/><circle cx="0" cy="61.7" r="2.2" fill="#FF1F66"/><circle cx="-6.45" cy="61.36" r="1.5" fill="#109ECD"/><circle cx="-12.83" cy="60.35" r="1.5" fill="#109ECD"/><circle cx="-19.07" cy="58.68" r="1.5" fill="#109ECD"/><circle cx="-25.1" cy="56.37" r="1.5" fill="#109ECD"/><circle cx="-30.85" cy="53.43" r="2.2" fill="#7F66FF"/><circle cx="-36.27" cy="49.92" r="1.5" fill="#109ECD"/><circle cx="-41.29" cy="45.85" r="1.5" fill="#109ECD"/><circle cx="-45.85" cy="41.29" r="1.5" fill="#109ECD"/><circle cx="-49.92" cy="36.27" r="1.5" fill="#109ECD"/><circle cx="-53.43" cy="30.85" r="2.2" fill="#7F66FF"/><circle cx="-56.37" cy="25.1" r="1.5" fill="#109ECD"/><circle cx="-58.68" cy="19.07" r="1.5" fill="#109ECD"/><circle cx="-60.35" cy="12.83" r="1.5" fill="#109ECD"/><circle cx="-61.36" cy="6.45" r="1.5" fill="#109ECD"/><circle cx="-61.7" cy="0" r="2.2" fill="#FF1F66"/><circle cx="-61.36" cy="-6.45" r="1.5" fill="#109ECD"/><circle cx="-60.35" cy="-12.83" r="1.5" fill="#109ECD"/><circle cx="-58.68" cy="-19.07" r="1.5" fill="#109ECD"/><circle cx="-56.37" cy="-25.1" r="1.5" fill="#109ECD"/><circle cx="-53.43" cy="-30.85" r="2.2" fill="#7F66FF"/><circle cx="-49.92" cy="-36.27" r="1.5" fill="#109ECD"/><circle cx="-45.85" cy="-41.29" r="1.5" fill="#109ECD"/><circle cx="-41.29" cy="-45.85" r="1.5" fill="#109ECD"/><circle cx="-36.27" cy="-49.92" r="1.5" fill="#109ECD"/><circle cx="-30.85" cy="-53.43" r="2.2" fill="#7F66FF"/><circle cx="-25.1" cy="-56.37" r="1.5" fill="#109ECD"/><circle cx="-19.07" cy="-58.68" r="1.5" fill="#109ECD"/><circle cx="-12.83" cy="-60.35" r="1.5" fill="#109ECD"/><circle cx="-6.45" cy="-61.36" r="1.5" fill="#109ECD"/><text x="25.45" y="-37.36" class="num">1</text><text x="43.86" y="-18.95" class="num">2</text><text x="50.6" y="6.2" class="num">3</text><text x="43.86" y="31.35" class="num">4</text><text x="25.45" y="49.76" class="num">5</text><text x="0.3" y="56.5" class="num">6</text><text x="-24.85" y="49.76" class="num">7</text><text x="-43.26" y="31.35" class="num">8</text><text x="-50" y="6.2" class="num">9</text><text x="-43.26" y="-18.95" class="num">10</text><text x="-24.85" y="-37.36" class="num">11</text><text x="0.3" y="-44.1" class="num">12</text><g transform="rotate(111)"><line x1="0" y1="4.5" x2="0" y2="-26.9" stroke="#FF1F66" stroke-width="6.2" stroke-linecap="round"/><line x1="0" y1="-7" x2="0" y2="-24.7" stroke="#fff" stroke-width="4" stroke-linecap="butt"/></g><g transform="rotate(258.7)"><line x1="0" y1="4.5" x2="0" y2="-38.3" stroke="#FF1F66" stroke-width="6.2" stroke-linecap="round"/><line x1="0" y1="-7" x2="0" y2="-36.1" stroke="#fff" stroke-width="4" stroke-linecap="butt"/></g><circle r="2.6" fill="#fff" stroke="#ff8fb0" stroke-width="0.8"/></g><g transform="translate(835.95,627.1) scale(1.05,1)"><circle r="69.2" fill="#fff" stroke="url(#tg)" stroke-width="4.6"/><circle cx="0" cy="-61.7" r="2.2" fill="#FF1F66"/><circle cx="6.45" cy="-61.36" r="1.5" fill="#109ECD"/><circle cx="12.83" cy="-60.35" r="1.5" fill="#109ECD"/><circle cx="19.07" cy="-58.68" r="1.5" fill="#109ECD"/><circle cx="25.1" cy="-56.37" r="1.5" fill="#109ECD"/><circle cx="30.85" cy="-53.43" r="2.2" fill="#7F66FF"/><circle cx="36.27" cy="-49.92" r="1.5" fill="#109ECD"/><circle cx="41.29" cy="-45.85" r="1.5" fill="#109ECD"/><circle cx="45.85" cy="-41.29" r="1.5" fill="#109ECD"/><circle cx="49.92" cy="-36.27" r="1.5" fill="#109ECD"/><circle cx="53.43" cy="-30.85" r="2.2" fill="#7F66FF"/><circle cx="56.37" cy="-25.1" r="1.5" fill="#109ECD"/><circle cx="58.68" cy="-19.07" r="1.5" fill="#109ECD"/><circle cx="60.35" cy="-12.83" r="1.5" fill="#109ECD"/><circle cx="61.36" cy="-6.45" r="1.5" fill="#109ECD"/><circle cx="61.7" cy="-0" r="2.2" fill="#FF1F66"/><circle cx="61.36" cy="6.45" r="1.5" fill="#109ECD"/><circle cx="60.35" cy="12.83" r="1.5" fill="#109ECD"/><circle cx="58.68" cy="19.07" r="1.5" fill="#109ECD"/><circle cx="56.37" cy="25.1" r="1.5" fill="#109ECD"/><circle cx="53.43" cy="30.85" r="2.2" fill="#7F66FF"/><circle cx="49.92" cy="36.27" r="1.5" fill="#109ECD"/><circle cx="45.85" cy="41.29" r="1.5" fill="#109ECD"/><circle cx="41.29" cy="45.85" r="1.5" fill="#109ECD"/><circle cx="36.27" cy="49.92" r="1.5" fill="#109ECD"/><circle cx="30.85" cy="53.43" r="2.2" fill="#7F66FF"/><circle cx="25.1" cy="56.37" r="1.5" fill="#109ECD"/><circle cx="19.07" cy="58.68" r="1.5" fill="#109ECD"/><circle cx="12.83" cy="60.35" r="1.5" fill="#109ECD"/><circle cx="6.45" cy="61.36" r="1.5" fill="#109ECD"/><circle cx="0" cy="61.7" r="2.2" fill="#FF1F66"/><circle cx="-6.45" cy="61.36" r="1.5" fill="#109ECD"/><circle cx="-12.83" cy="60.35" r="1.5" fill="#109ECD"/><circle cx="-19.07" cy="58.68" r="1.5" fill="#109ECD"/><circle cx="-25.1" cy="56.37" r="1.5" fill="#109ECD"/><circle cx="-30.85" cy="53.43" r="2.2" fill="#7F66FF"/><circle cx="-36.27" cy="49.92" r="1.5" fill="#109ECD"/><circle cx="-41.29" cy="45.85" r="1.5" fill="#109ECD"/><circle cx="-45.85" cy="41.29" r="1.5" fill="#109ECD"/><circle cx="-49.92" cy="36.27" r="1.5" fill="#109ECD"/><circle cx="-53.43" cy="30.85" r="2.2" fill="#7F66FF"/><circle cx="-56.37" cy="25.1" r="1.5" fill="#109ECD"/><circle cx="-58.68" cy="19.07" r="1.5" fill="#109ECD"/><circle cx="-60.35" cy="12.83" r="1.5" fill="#109ECD"/><circle cx="-61.36" cy="6.45" r="1.5" fill="#109ECD"/><circle cx="-61.7" cy="0" r="2.2" fill="#FF1F66"/><circle cx="-61.36" cy="-6.45" r="1.5" fill="#109ECD"/><circle cx="-60.35" cy="-12.83" r="1.5" fill="#109ECD"/><circle cx="-58.68" cy="-19.07" r="1.5" fill="#109ECD"/><circle cx="-56.37" cy="-25.1" r="1.5" fill="#109ECD"/><circle cx="-53.43" cy="-30.85" r="2.2" fill="#7F66FF"/><circle cx="-49.92" cy="-36.27" r="1.5" fill="#109ECD"/><circle cx="-45.85" cy="-41.29" r="1.5" fill="#109ECD"/><circle cx="-41.29" cy="-45.85" r="1.5" fill="#109ECD"/><circle cx="-36.27" cy="-49.92" r="1.5" fill="#109ECD"/><circle cx="-30.85" cy="-53.43" r="2.2" fill="#7F66FF"/><circle cx="-25.1" cy="-56.37" r="1.5" fill="#109ECD"/><circle cx="-19.07" cy="-58.68" r="1.5" fill="#109ECD"/><circle cx="-12.83" cy="-60.35" r="1.5" fill="#109ECD"/><circle cx="-6.45" cy="-61.36" r="1.5" fill="#109ECD"/><text x="25.45" y="-37.36" class="num">1</text><text x="43.86" y="-18.95" class="num">2</text><text x="50.6" y="6.2" class="num">3</text><text x="43.86" y="31.35" class="num">4</text><text x="25.45" y="49.76" class="num">5</text><text x="0.3" y="56.5" class="num">6</text><text x="-24.85" y="49.76" class="num">7</text><text x="-43.26" y="31.35" class="num">8</text><text x="-50" y="6.2" class="num">9</text><text x="-43.26" y="-18.95" class="num">10</text><text x="-24.85" y="-37.36" class="num">11</text><text x="0.3" y="-44.1" class="num">12</text><g transform="rotate(17.5)"><line x1="0" y1="4.5" x2="0" y2="-28" stroke="#FF1F66" stroke-width="6.2" stroke-linecap="round"/><line x1="0" y1="-7" x2="0" y2="-25.8" stroke="#fff" stroke-width="4" stroke-linecap="butt"/></g><g transform="rotate(227.8)"><line x1="0" y1="4.5" x2="0" y2="-39.1" stroke="#FF1F66" stroke-width="6.2" stroke-linecap="round"/><line x1="0" y1="-7" x2="0" y2="-36.9" stroke="#fff" stroke-width="4" stroke-linecap="butt"/></g><circle r="2.6" fill="#fff" stroke="#ff8fb0" stroke-width="0.8"/></g><g fill="none" stroke="#10A8CF" stroke-width="5.4" stroke-linecap="round" stroke-linejoin="round"><path d="M709.4 627.1 H746.9"/><path d="M739.4 619.3 L747.1 627.1 L739.4 634.9"/></g><path d="M582.4 716.7 V714.2 Q582.4 711.7 585.4 711.7 H655.4 Q658.4 711.7 658.4 714.2 V716.7 Z" fill="url(#kg)"/><rect x="547.8" y="716.9" width="145.1" height="79.7" rx="41.84" ry="39.85" fill="#fff" stroke="url(#pg)" stroke-width="4.4"/><rect x="547.8" y="817.5" width="145.1" height="79.7" rx="41.84" ry="39.85" fill="#fff" stroke="url(#pg)" stroke-width="4.4"/><path d="M797.95 716.7 V714.2 Q797.95 711.7 800.95 711.7 H870.95 Q873.95 711.7 873.95 714.2 V716.7 Z" fill="url(#kg)"/><rect x="763.35" y="716.9" width="145.1" height="79.7" rx="41.84" ry="39.85" fill="#fff" stroke="url(#pg)" stroke-width="4.4"/><rect x="763.35" y="817.5" width="145.1" height="79.7" rx="41.84" ry="39.85" fill="#fff" stroke="url(#pg)" stroke-width="4.4"/><text transform="translate(615.37,759.4) scale(1,0.92)" class="colon">:</text><text transform="translate(830.92,759.4) scale(1,0.92)" class="colon">:</text><text transform="translate(620.4,851.9) scale(1.05,1)" class="lbl"><tspan x="3.2">elapsed </tspan><tspan x="0" dy="27.6">time</tspan></text><g fill="none" stroke="#10A8CF" stroke-width="5.5" stroke-linecap="round"><path d="M717.42 851.7 H738.92"/><path d="M717.42 862.9 H738.92"/></g><g class="wm" filter="url(#wmf)"><text transform="translate(-113.61,12.8) rotate(-44.5) scale(1.06,1)">Adobe Stock</text><text transform="translate(13.29,57.75) rotate(-44.5) scale(1.06,1)">Adobe Stock</text><text transform="translate(-106.61,345.21) rotate(-44.5) scale(1.06,1)">Adobe Stock</text><text transform="translate(56.01,185.4) rotate(-44.5) scale(1.06,1)">Adobe Stock</text><text transform="translate(218.63,25.6) rotate(-44.5) scale(1.06,1)">Adobe Stock</text><text transform="translate(20.28,390.16) rotate(-44.5) scale(1.06,1)">Adobe Stock</text><text transform="translate(182.91,230.35) rotate(-44.5) scale(1.06,1)">Adobe Stock</text><text transform="translate(345.53,70.55) rotate(-44.5) scale(1.06,1)">Adobe Stock</text><text transform="translate(-99.61,677.63) rotate(-44.5) scale(1.06,1)">Adobe Stock</text><text transform="translate(63.01,517.82) rotate(-44.5) scale(1.06,1)">Adobe Stock</text><text transform="translate(225.63,358.01) rotate(-44.5) scale(1.06,1)">Adobe Stock</text><text transform="translate(388.25,198.2) rotate(-44.5) scale(1.06,1)">Adobe Stock</text><text transform="translate(550.88,38.4) rotate(-44.5) scale(1.06,1)">Adobe Stock</text><text transform="translate(-135.34,882.38) rotate(-44.5) scale(1.06,1)">Adobe Stock</text><text transform="translate(27.28,722.58) rotate(-44.5) scale(1.06,1)">Adobe Stock</text><text transform="translate(189.9,562.77) rotate(-44.5) scale(1.06,1)">Adobe Stock</text><text transform="translate(352.53,402.96) rotate(-44.5) scale(1.06,1)">Adobe Stock</text><text transform="translate(515.15,243.15) rotate(-44.5) scale(1.06,1)">Adobe Stock</text><text transform="translate(677.77,83.35) rotate(-44.5) scale(1.06,1)">Adobe Stock</text><text transform="translate(-92.61,1010.04) rotate(-44.5) scale(1.06,1)">Adobe Stock</text><text transform="translate(70.01,850.23) rotate(-44.5) scale(1.06,1)">Adobe Stock</text><text transform="translate(232.63,690.42) rotate(-44.5) scale(1.06,1)">Adobe Stock</text><text transform="translate(395.25,530.62) rotate(-44.5) scale(1.06,1)">Adobe Stock</text><text transform="translate(557.87,370.81) rotate(-44.5) scale(1.06,1)">Adobe Stock</text><text transform="translate(720.5,211) rotate(-44.5) scale(1.06,1)">Adobe Stock</text><text transform="translate(883.12,51.2) rotate(-44.5) scale(1.06,1)">Adobe Stock</text><text transform="translate(34.28,1054.99) rotate(-44.5) scale(1.06,1)">Adobe Stock</text><text transform="translate(196.9,895.18) rotate(-44.5) scale(1.06,1)">Adobe Stock</text><text transform="translate(359.52,735.37) rotate(-44.5) scale(1.06,1)">Adobe Stock</text><text transform="translate(522.15,575.57) rotate(-44.5) scale(1.06,1)">Adobe Stock</text><text transform="translate(684.77,415.76) rotate(-44.5) scale(1.06,1)">Adobe Stock</text><text transform="translate(847.39,255.95) rotate(-44.5) scale(1.06,1)">Adobe Stock</text><text transform="translate(1010.01,96.15) rotate(-44.5) scale(1.06,1)">Adobe Stock</text><text transform="translate(239.63,1022.84) rotate(-44.5) scale(1.06,1)">Adobe Stock</text><text transform="translate(402.25,863.03) rotate(-44.5) scale(1.06,1)">Adobe Stock</text><text transform="translate(564.87,703.22) rotate(-44.5) scale(1.06,1)">Adobe Stock</text><text transform="translate(727.49,543.42) rotate(-44.5) scale(1.06,1)">Adobe Stock</text><text transform="translate(890.12,383.61) rotate(-44.5) scale(1.06,1)">Adobe Stock</text><text transform="translate(366.52,1067.79) rotate(-44.5) scale(1.06,1)">Adobe Stock</text><text transform="translate(529.14,907.98) rotate(-44.5) scale(1.06,1)">Adobe Stock</text><text transform="translate(691.77,748.17) rotate(-44.5) scale(1.06,1)">Adobe Stock</text><text transform="translate(854.39,588.37) rotate(-44.5) scale(1.06,1)">Adobe Stock</text><text transform="translate(1017.01,428.56) rotate(-44.5) scale(1.06,1)">Adobe Stock</text><text transform="translate(571.87,1035.64) rotate(-44.5) scale(1.06,1)">Adobe Stock</text><text transform="translate(734.49,875.83) rotate(-44.5) scale(1.06,1)">Adobe Stock</text><text transform="translate(897.11,716.02) rotate(-44.5) scale(1.06,1)">Adobe Stock</text><text transform="translate(698.76,1080.59) rotate(-44.5) scale(1.06,1)">Adobe Stock</text><text transform="translate(861.39,920.78) rotate(-44.5) scale(1.06,1)">Adobe Stock</text><text transform="translate(904.11,1048.44) rotate(-44.5) scale(1.06,1)">Adobe Stock</text></g><text transform="translate(29.3,984.4) rotate(-90) scale(0.931,1)" class="credit">Adobe Stock | #312535567</text></svg>
</body></html>
